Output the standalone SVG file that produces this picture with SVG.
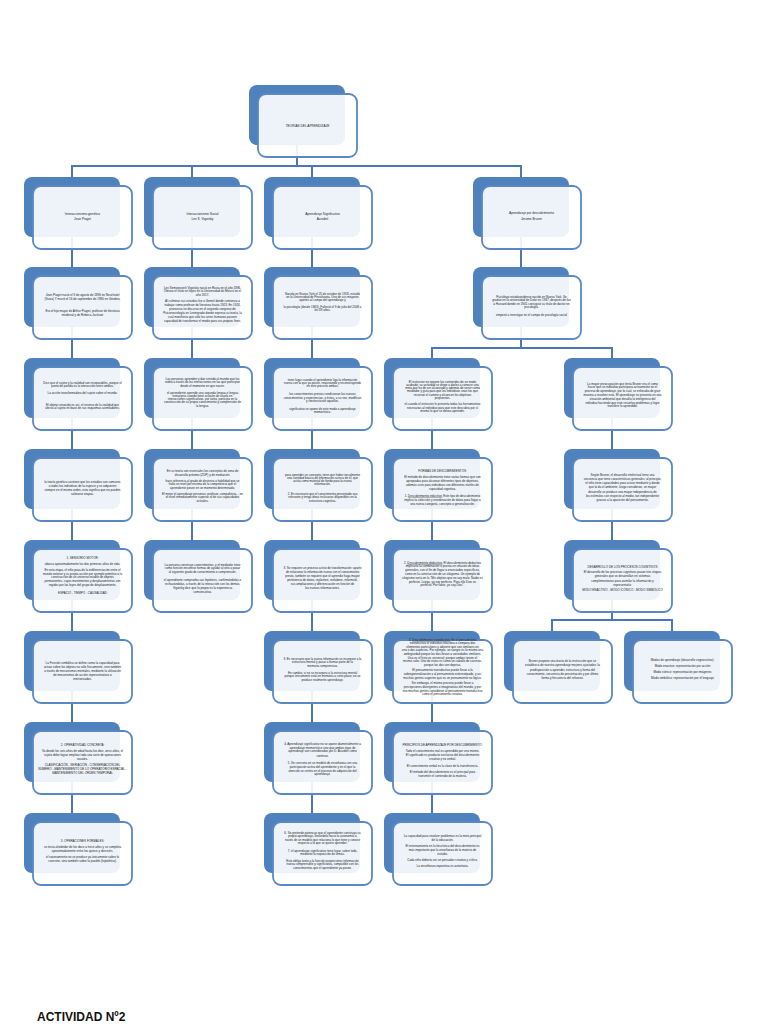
<svg xmlns="http://www.w3.org/2000/svg" width="768" height="1024" viewBox="0 0 768 1024">
<style>
.dk{fill:#4f81bd}
.lt{fill:#fff;fill-opacity:.9;stroke:#5a88c5;stroke-width:1.8}
.t{font-family:"Liberation Sans",Arial,sans-serif;font-size:3px;fill:#222;text-anchor:middle}
.h{font-size:3.2px}
.cn line{stroke:#4a78b5;stroke-width:2}
.u{text-decoration:underline}
.big{font-family:"Liberation Sans",Arial,sans-serif;font-size:12px;font-weight:bold;fill:#111}
</style>
<rect width="768" height="1024" fill="#fff"/>
<g id="connectors" class="cn">
<line x1="297" y1="140" x2="297" y2="166"/>
<line x1="71" y1="166" x2="522" y2="166"/>
<line x1="72" y1="166" x2="72" y2="813"/>
<line x1="192" y1="166" x2="192" y2="540"/>
<line x1="312" y1="166" x2="312" y2="813"/>
<line x1="521" y1="166" x2="521" y2="348"/>
<line x1="431" y1="348" x2="613" y2="348"/>
<line x1="432" y1="348" x2="432" y2="813"/>
<line x1="612" y1="348" x2="612" y2="620"/>
<line x1="551" y1="620" x2="673" y2="620"/>
<line x1="552" y1="620" x2="552" y2="631"/>
<line x1="672" y1="620" x2="672" y2="631"/>
</g>

<g id="n-top"><rect class="dk" x="249" y="85" width="96" height="60" rx="8"/><rect class="lt" x="258" y="94" width="99" height="63" rx="8"/>
<text class="t h"><tspan x="307.5" y="126.5">TEORIAS DEL APRENDIZAJE</tspan></text></g>

<!-- Column 1: Piaget -->
<g id="n-c1r1"><rect class="dk" x="24" y="177" width="96" height="60" rx="8"/><rect class="lt" x="33" y="186" width="99" height="63" rx="8"/>
<text class="t h"><tspan x="82.5" y="214.5">Interaccionismo genético</tspan><tspan x="82.5" y="220.3">Jean Piaget</tspan></text></g>

<g id="n-c1r2"><rect class="dk" x="24" y="267" width="96" height="60" rx="8"/><rect class="lt" x="33" y="276" width="99" height="63" rx="8"/>
<text class="t"><tspan x="82.5" y="296">Jean Piaget nació el 9 de agosto de 1896 en Neuchatel</tspan><tspan x="82.5" y="300">(Suiza) Y murió el 16 de septiembre de 1980 en Ginebra.</tspan><tspan x="82.5" y="312">Era el hijo mayor de Arthur Piaget, profesor de literatura</tspan><tspan x="82.5" y="316">medieval y de Rebeca Jackson</tspan></text></g>

<g id="n-c1r3"><rect class="dk" x="24" y="358" width="96" height="60" rx="8"/><rect class="lt" x="33" y="367" width="99" height="63" rx="8"/>
<text class="t"><tspan x="82.5" y="383.5">Dice que el sujeto y la realidad son inseparables, porque el</tspan><tspan x="82.5" y="386.9">punto de partida es la interacción entre ambas.</tspan><tspan x="82.5" y="394.2">La acción transformadora del sujeto sobre el mundo.</tspan><tspan x="82.5" y="406">El objeto conocido es así, el reverso de la realidad que</tspan><tspan x="82.5" y="409.4">afecta al sujeto en base de sus esquemas asimiladores.</tspan></text></g>

<g id="n-c1r4"><rect class="dk" x="24" y="449" width="96" height="60" rx="8"/><rect class="lt" x="33" y="458" width="99" height="63" rx="8"/>
<text class="t"><tspan x="82.5" y="482.5">la teoría genética sostiene que los estadios son comunes</tspan><tspan x="82.5" y="486.8">a todos los individuos de la especie y se adquieren</tspan><tspan x="82.5" y="491.1">siempre en el mismo orden, esto significa que no pueden</tspan><tspan x="82.5" y="495.4">saltearse etapas.</tspan></text></g>

<g id="n-c1r5"><rect class="dk" x="24" y="540" width="96" height="60" rx="8"/><rect class="lt" x="33" y="549" width="99" height="63" rx="8"/>
<text class="t"><tspan x="82.5" y="559">1. SENSORIO MOTOR:</tspan><tspan x="82.5" y="565">abarca aproximadamente los dos primeros años de vida.</tspan><tspan x="82.5" y="571">En esta etapa, el niño pasa de la indiferenciación entre el</tspan><tspan x="82.5" y="574.7">mundo exterior y su propia acción por ejemplo primitivo a la</tspan><tspan x="82.5" y="578.4">construcción de un universo estable de objetos</tspan><tspan x="82.5" y="582.1">permanentes, cuyos movimientos y desplazamientos son</tspan><tspan x="82.5" y="585.8">regidos por las leyes del grupo de desplazamiento.</tspan><tspan x="82.5" y="594">ESPACIO - TIEMPO - CAUSALIDAD</tspan></text></g>

<g id="n-c1r6"><rect class="dk" x="24" y="631" width="96" height="60" rx="8"/><rect class="lt" x="33" y="640" width="99" height="63" rx="8"/>
<text class="t"><tspan x="82.5" y="663.5">La Función simbólica se define como la capacidad para</tspan><tspan x="82.5" y="667.5">actuar sobre los objetos no sólo físicamente, sino también</tspan><tspan x="82.5" y="671.5">a través de mecanismos mentales, mediante la utilización</tspan><tspan x="82.5" y="675.5">de mecanismos de acción representativos o</tspan><tspan x="82.5" y="679.5">interiorizados.</tspan></text></g>

<g id="n-c1r7"><rect class="dk" x="24" y="722" width="96" height="60" rx="8"/><rect class="lt" x="33" y="731" width="99" height="63" rx="8"/>
<text class="t"><tspan x="82.5" y="746">2. OPERATIVIDAD CONCRETA:</tspan><tspan x="82.5" y="752">Va desde los seis años de edad hasta los diez, once años, el</tspan><tspan x="82.5" y="756">sujeto debe lograr emplear toda una serie de operaciones</tspan><tspan x="82.5" y="760">usuales.</tspan><tspan x="82.5" y="765.5">CLASIFICACIÓN - SERIACIÓN - CONSERVACIÓN DEL</tspan><tspan x="82.5" y="769.8">NÚMERO - MANTENIMIENTO DE LO OPERATORIO ESPACIAL -</tspan><tspan x="82.5" y="774.1">MANTENIMIENTO DEL ORDEN TEMPORAL</tspan></text></g>

<g id="n-c1r8"><rect class="dk" x="24" y="813" width="96" height="60" rx="8"/><rect class="lt" x="33" y="822" width="99" height="63" rx="8"/>
<text class="t"><tspan x="82.5" y="842">3. OPERACIONES FORMALES:</tspan><tspan x="82.5" y="848">se inicia alrededor de los doce a trece años y se completa</tspan><tspan x="82.5" y="852">aproximadamente entre los quince y dieciséis.</tspan><tspan x="82.5" y="858">el razonamiento no se produce ya únicamente sobre lo</tspan><tspan x="82.5" y="862">concreto, sino también sobre lo posible (hipotético).</tspan></text></g>

<!-- Column 2: Vigotsky -->
<g id="n-c2r1"><rect class="dk" x="144" y="177" width="96" height="60" rx="8"/><rect class="lt" x="153" y="186" width="99" height="63" rx="8"/>
<text class="t h"><tspan x="202.5" y="214.5">Interaccionismo Social</tspan><tspan x="202.5" y="220.3">Lev S. Vigotsky</tspan></text></g>

<g id="n-c2r2"><rect class="dk" x="144" y="267" width="96" height="60" rx="8"/><rect class="lt" x="153" y="276" width="99" height="63" rx="8"/>
<text class="t"><tspan x="202.5" y="289">Lev Semionovich Vigotsky nació en Rusia en el año 1896.</tspan><tspan x="202.5" y="292.4">Obtuvo el título en leyes en la Universidad de Moscú en el</tspan><tspan x="202.5" y="295.8">año 1917.</tspan><tspan x="202.5" y="302">Al culminar sus estudios fue a Gomel donde comienza a</tspan><tspan x="202.5" y="306">trabajar como profesor de literatura hasta 1923. En 1924,</tspan><tspan x="202.5" y="310">pronuncia un discurso en el segundo congreso de</tspan><tspan x="202.5" y="314">Psiconeurología en Leningrado donde expresa su teoría, la</tspan><tspan x="202.5" y="318">cual manifiesta que sólo los seres humanos poseen</tspan><tspan x="202.5" y="322">capacidad de transformar el medio para sus propios fines.</tspan></text></g>

<g id="n-c2r3"><rect class="dk" x="144" y="358" width="96" height="60" rx="8"/><rect class="lt" x="153" y="367" width="99" height="63" rx="8"/>
<text class="t"><tspan x="202.5" y="380">Las personas aprenden y dan sentido al mundo que las</tspan><tspan x="202.5" y="383.3">rodea a través de las interacciones en las que participan</tspan><tspan x="202.5" y="386.6">desde el momento en que nacen.</tspan><tspan x="202.5" y="393.5">el aprendiente aprende una segunda lengua o lengua</tspan><tspan x="202.5" y="396.8">extranjera cuando tiene ocasión de usarla en</tspan><tspan x="202.5" y="400.1">interacciones significativas, por tanto, participa en la</tspan><tspan x="202.5" y="403.4">construcción de su propio conocimiento y comprensión de</tspan><tspan x="202.5" y="406.7">la lengua.</tspan></text></g>

<g id="n-c2r4"><rect class="dk" x="144" y="449" width="96" height="60" rx="8"/><rect class="lt" x="153" y="458" width="99" height="63" rx="8"/>
<text class="t"><tspan x="202.5" y="472">En su teoría son esenciales los conceptos de zona de</tspan><tspan x="202.5" y="475.5">desarrollo próximo (ZDP) y de mediación.</tspan><tspan x="202.5" y="481.5">hace referencia al grado de destreza o habilidad que se</tspan><tspan x="202.5" y="485">halla un nivel por encima de la competencia que el</tspan><tspan x="202.5" y="488.5">aprendiente posee en un momento determinado.</tspan><tspan x="202.5" y="494.5">El mejor el aprendizaje personas: profesor, compañeros... en</tspan><tspan x="202.5" y="498">el nivel inmediatamente superior al de sus capacidades</tspan><tspan x="202.5" y="501.5">actuales.</tspan></text></g>

<g id="n-c2r5"><rect class="dk" x="144" y="540" width="96" height="60" rx="8"/><rect class="lt" x="153" y="549" width="99" height="63" rx="8"/>
<text class="t"><tspan x="202.5" y="566">La persona construye conocimientos, y el mediador tiene</tspan><tspan x="202.5" y="569.4">como función encontrar formas de ayudar al otro a pasar</tspan><tspan x="202.5" y="572.8">al siguiente grado de conocimiento o comprensión.</tspan><tspan x="202.5" y="580.5">el aprendiente comprueba sus hipótesis, confirmándolas o</tspan><tspan x="202.5" y="584.7">rechazándolas, a través de la interacción con los demás.</tspan><tspan x="202.5" y="588.9">Vigotsky dice que lo propio es la experiencia</tspan><tspan x="202.5" y="593.1">comunicativa.</tspan></text></g>

<!-- Column 3: Ausubel -->
<g id="n-c3r1"><rect class="dk" x="264" y="177" width="96" height="60" rx="8"/><rect class="lt" x="273" y="186" width="99" height="63" rx="8"/>
<text class="t h"><tspan x="322.5" y="214.5">Aprendizaje Significativo</tspan><tspan x="322.5" y="220.3">Ausubel</tspan></text></g>

<g id="n-c3r2"><rect class="dk" x="264" y="267" width="96" height="60" rx="8"/><rect class="lt" x="273" y="276" width="99" height="63" rx="8"/>
<text class="t"><tspan x="322.5" y="295">Nacido en Nueva York el 25 de octubre de 1918, estudió</tspan><tspan x="322.5" y="298.2">en la Universidad de Pensilvania. Uno de sus mayores</tspan><tspan x="322.5" y="301.4">aportes al campo del aprendizaje y</tspan><tspan x="322.5" y="307.8">la psicología (desde 1963). Falleció el 9 de julio del 2008 a</tspan><tspan x="322.5" y="311">los 89 años.</tspan></text></g>

<g id="n-c3r3"><rect class="dk" x="264" y="358" width="96" height="60" rx="8"/><rect class="lt" x="273" y="367" width="99" height="63" rx="8"/>
<text class="t"><tspan x="322.5" y="381">tiene lugar cuando el aprendiente liga la información</tspan><tspan x="322.5" y="384.2">nueva con la que ya posee, reajustando y reconstruyendo</tspan><tspan x="322.5" y="387.4">en este proceso ambas.</tspan><tspan x="322.5" y="395">los conocimientos previos condicionan los nuevos</tspan><tspan x="322.5" y="398.5">conocimientos y experiencias, y éstos, a su vez, modifican</tspan><tspan x="322.5" y="402">y reestructuran aquellos.</tspan><tspan x="322.5" y="409.5">significativo se opone de este modo a aprendizaje</tspan><tspan x="322.5" y="412.7">memorístico.</tspan></text></g>

<g id="n-c3r4"><rect class="dk" x="264" y="449" width="96" height="60" rx="8"/><rect class="lt" x="273" y="458" width="99" height="63" rx="8"/>
<text class="t"><tspan x="322.5" y="476">para aprender un concepto, tiene que haber inicialmente</tspan><tspan x="322.5" y="479">una cantidad básica de información acerca de él, que</tspan><tspan x="322.5" y="482">actúa como material de fondo para la nueva</tspan><tspan x="322.5" y="485">información.</tspan><tspan x="322.5" y="494.5">2. Es necesario que el conocimiento presentado sea</tspan><tspan x="322.5" y="498">relevante y tenga ideas inclusoras disponibles en la</tspan><tspan x="322.5" y="501.5">estructura cognitiva.</tspan></text></g>

<g id="n-c3r5"><rect class="dk" x="264" y="540" width="96" height="60" rx="8"/><rect class="lt" x="273" y="549" width="99" height="63" rx="8"/>
<text class="t"><tspan x="322.5" y="569">3. Se requiere un proceso activo de transformación: aparte</tspan><tspan x="322.5" y="573">de relacionar la información nueva con el conocimiento</tspan><tspan x="322.5" y="577">previo, también se requiere que el aprendiz haga mayor</tspan><tspan x="322.5" y="581">pertinencia de datos, replantee, reelabore, reformule,</tspan><tspan x="322.5" y="585">sus ampliaciones y diferenciación en función de</tspan><tspan x="322.5" y="589">las nuevas informaciones.</tspan></text></g>

<g id="n-c3r6"><rect class="dk" x="264" y="631" width="96" height="60" rx="8"/><rect class="lt" x="273" y="640" width="99" height="63" rx="8"/>
<text class="t"><tspan x="322.5" y="659.5">3. Es necesario que la nueva información se incorpore a la</tspan><tspan x="322.5" y="663">estructura mental y pasar a formar parte de la</tspan><tspan x="322.5" y="666.5">memoria comprensiva.</tspan><tspan x="322.5" y="673.5">En cambio, si no se incorpora a la estructura mental</tspan><tspan x="322.5" y="677.2">porque únicamente está en memoria a corto plazo, no se</tspan><tspan x="322.5" y="680.9">produce realmente aprendizaje.</tspan></text></g>

<g id="n-c3r7"><rect class="dk" x="264" y="722" width="96" height="60" rx="8"/><rect class="lt" x="273" y="731" width="99" height="63" rx="8"/>
<text class="t"><tspan x="322.5" y="745">4. Aprendizaje significativo no se opone diametralmente a</tspan><tspan x="322.5" y="748.7">aprendizaje memorístico sino que ambos tipos de</tspan><tspan x="322.5" y="752.4">aprendizaje son considerados por D. Ausubel como</tspan><tspan x="322.5" y="756.5">continuo.</tspan><tspan x="322.5" y="764">5. Se concreta en un modelo de enseñanza con una</tspan><tspan x="322.5" y="767.8">participación activa del aprendiente y en el que la</tspan><tspan x="322.5" y="771.6">atención se centra en el proceso de adquisición del</tspan><tspan x="322.5" y="775.4">aprendizaje.</tspan></text></g>

<g id="n-c3r8"><rect class="dk" x="264" y="813" width="96" height="60" rx="8"/><rect class="lt" x="273" y="822" width="99" height="63" rx="8"/>
<text class="t"><tspan x="322.5" y="833.5">6. Se pretende potenciar que el aprendiente construya su</tspan><tspan x="322.5" y="837">propio aprendizaje, llevándolo hacia la autonomía a</tspan><tspan x="322.5" y="840.5">través de un modelo que relaciona lo que tiene y conoce</tspan><tspan x="322.5" y="844">respecto a lo que se quiere aprender.</tspan><tspan x="322.5" y="851.5">7. el aprendizaje significativo tiene lugar, sobre todo,</tspan><tspan x="322.5" y="855">mediante la exposición de temas.</tspan><tspan x="322.5" y="861.5">Esto obliga tanto a la función proporcionar información</tspan><tspan x="322.5" y="865">nueva comprensible y significativa, compatible con los</tspan><tspan x="322.5" y="868.5">conocimientos que el aprendiente ya posee.</tspan></text></g>

<!-- Column 4: Bruner -->
<g id="n-c4r1"><rect class="dk" x="473" y="177" width="96" height="60" rx="8"/><rect class="lt" x="482" y="186" width="99" height="63" rx="8"/>
<text class="t h"><tspan x="531.5" y="214">Aprendizaje por descubrimiento</tspan><tspan x="531.5" y="219.8">Jerome Bruner</tspan></text></g>

<g id="n-c4r2"><rect class="dk" x="473" y="267" width="96" height="60" rx="8"/><rect class="lt" x="482" y="276" width="99" height="63" rx="8"/>
<text class="t"><tspan x="531.5" y="297.5">Psicólogo estadounidense nacido en Nueva York. Se</tspan><tspan x="531.5" y="301">graduó en la universidad de Duke en 1937, después de fue</tspan><tspan x="531.5" y="304.5">a Harvard donde en 1941 consiguió su título de doctor en</tspan><tspan x="531.5" y="308">psicología.</tspan><tspan x="531.5" y="316">empezó a investigar en el campo de psicología social</tspan></text></g>

<!-- Column 5 -->
<g id="n-c5r3"><rect class="dk" x="384" y="358" width="96" height="60" rx="8"/><rect class="lt" x="393" y="367" width="99" height="63" rx="8"/>
<text class="t"><tspan x="442.5" y="382.5">El instructor no expone los contenidos de un modo</tspan><tspan x="442.5" y="385.8">acabado; su actividad se dirige a darles a conocer una</tspan><tspan x="442.5" y="389.1">meta que ha de ser alcanzada y además de servir como</tspan><tspan x="442.5" y="392.4">mediador y guía para que los individuos sean los que</tspan><tspan x="442.5" y="395.7">recorran el camino y alcancen los objetivos</tspan><tspan x="442.5" y="399">propuestos.</tspan><tspan x="442.5" y="405">el cuando el instructor le presenta todas las herramientas</tspan><tspan x="442.5" y="408.6">necesarias al individuo para que este descubra por sí</tspan><tspan x="442.5" y="412.2">mismo lo que se desea aprender.</tspan></text></g>

<g id="n-c5r4"><rect class="dk" x="384" y="449" width="96" height="60" rx="8"/><rect class="lt" x="393" y="458" width="99" height="63" rx="8"/>
<text class="t"><tspan x="442.5" y="472">FORMAS DE DESCUBRIMIENTOS:</tspan><tspan x="442.5" y="477.7">El método de descubrimiento tiene varias formas que son</tspan><tspan x="442.5" y="481.7">apropiadas para alcanzar diferentes tipos de objetivos,</tspan><tspan x="442.5" y="485.7">además sirve para individuos con diferentes niveles de</tspan><tspan x="442.5" y="489.7">capacidad cognitiva.</tspan><tspan x="442.5" y="496.5">1. <tspan class="u">Descubrimiento inductivo:</tspan> Este tipo de descubrimiento</tspan><tspan x="442.5" y="500.5">implica la colección y reordenación de datos para llegar a</tspan><tspan x="442.5" y="504.5">una nueva categoría, concepto o generalización.</tspan></text></g>

<g id="n-c5r5"><rect class="dk" x="384" y="540" width="96" height="60" rx="8"/><rect class="lt" x="393" y="549" width="99" height="63" rx="8"/>
<text class="t"><tspan x="442.5" y="563.5">2. <tspan class="u">Descubrimiento deductivo:</tspan> El descubrimiento deductivo</tspan><tspan x="442.5" y="567.3">implicaría la combinación o puesta en relación de ideas</tspan><tspan x="442.5" y="571.1">generales, con el fin de llegar a enunciados específicos,</tspan><tspan x="442.5" y="574.9">como en la construcción de un silogismo. Un ejemplo de</tspan><tspan x="442.5" y="578.7">silogismo sería en la "Mis objetos que no soy malo. Nadie es</tspan><tspan x="442.5" y="582.5">perfecto. Luego, yo soy perfecto. Para ello Dios es</tspan><tspan x="442.5" y="586.3">perfecto. Por tanto, yo soy Dios".</tspan></text></g>

<g id="n-c5r6"><rect class="dk" x="384" y="631" width="96" height="60" rx="8"/><rect class="lt" x="393" y="640" width="99" height="63" rx="8"/>
<text class="t"><tspan x="442.5" y="640.5">3. <tspan class="u">Descubrimiento transductivo:</tspan> En el pensamiento</tspan><tspan x="442.5" y="644.1">transductivo el individuo relaciona o compara dos</tspan><tspan x="442.5" y="647.7">elementos particulares y advierte que son similares en</tspan><tspan x="442.5" y="651.3">uno o dos aspectos. Por ejemplo, un sangre es lo mismo una</tspan><tspan x="442.5" y="654.9">ambigüedad porque los dos llevan a sociedades similares.</tspan><tspan x="442.5" y="658.5">Una es el fruto es universal; porque ambos tienen el</tspan><tspan x="442.5" y="662.1">mismo color. Uno de estos es como un caballo de carreras,</tspan><tspan x="442.5" y="665.7">porque los dos son deprisa.</tspan><tspan x="442.5" y="671.3">El pensamiento transductivo puede llevar a la</tspan><tspan x="442.5" y="674.9">sobregeneralización o al pensamiento estereotipado, y así</tspan><tspan x="442.5" y="678.5">muchas gentes sugieren que es un pensamiento no lógico.</tspan><tspan x="442.5" y="684.3">Sin embargo, el mismo proceso puede llevar a</tspan><tspan x="442.5" y="687.9">percepciones divergentes o imaginativas del mundo, y por</tspan><tspan x="442.5" y="691.5">eso muchas gentes consideran al pensamiento transductivo</tspan><tspan x="442.5" y="695.1">como el pensamiento creativo.</tspan></text></g>

<g id="n-c5r7"><rect class="dk" x="384" y="722" width="96" height="60" rx="8"/><rect class="lt" x="393" y="731" width="99" height="63" rx="8"/>
<text class="t"><tspan x="442.5" y="745.5">PRINCIPIOS DE APRENDIZAJE POR DESCUBRIMIENTO:</tspan><tspan x="442.5" y="751.5">Todo el conocimiento real es aprendido por uno mismo.</tspan><tspan x="442.5" y="755.8">El significado es producto exclusivo del descubrimiento</tspan><tspan x="442.5" y="760">creativo y no verbal.</tspan><tspan x="442.5" y="766.5">El conocimiento verbal es la clave de la transferencia.</tspan><tspan x="442.5" y="772.5">El método del descubrimiento es el principal para</tspan><tspan x="442.5" y="776.8">transmitir el contenido de la materia.</tspan></text></g>

<g id="n-c5r8"><rect class="dk" x="384" y="813" width="96" height="60" rx="8"/><rect class="lt" x="393" y="822" width="99" height="63" rx="8"/>
<text class="t"><tspan x="442.5" y="836.7">La capacidad para resolver problemas es la meta principal</tspan><tspan x="442.5" y="840.7">de la educación.</tspan><tspan x="442.5" y="847.3">El entrenamiento en la heurística del descubrimiento es</tspan><tspan x="442.5" y="851.1">más importante que la enseñanza de la materia de</tspan><tspan x="442.5" y="854.9">estudio.</tspan><tspan x="442.5" y="861">Cada niño debería ser un pensador creativo y crítico.</tspan><tspan x="442.5" y="867.3">La enseñanza expositiva es autoritaria.</tspan></text></g>

<!-- Column 6 -->
<g id="n-c6r3"><rect class="dk" x="564" y="358" width="96" height="60" rx="8"/><rect class="lt" x="573" y="367" width="99" height="63" rx="8"/>
<text class="t"><tspan x="622.5" y="384.5">La mayor preocupación que tenía Bruner era el como</tspan><tspan x="622.5" y="388.3">hacer que un individuo participara activamente en el</tspan><tspan x="622.5" y="392.1">proceso de aprendizaje, por lo cual, se enfocaba de gran</tspan><tspan x="622.5" y="395.9">manera a resolver esto. El aprendizaje se presenta en una</tspan><tspan x="622.5" y="399.7">situación ambiental que desafía la inteligencia del</tspan><tspan x="622.5" y="403.5">individuo haciendo que este resuelva problemas y logre</tspan><tspan x="622.5" y="407.3">transferir lo aprendido.</tspan></text></g>

<g id="n-c6r4"><rect class="dk" x="564" y="449" width="96" height="60" rx="8"/><rect class="lt" x="573" y="458" width="99" height="63" rx="8"/>
<text class="t"><tspan x="622.5" y="475.7">Según Bruner, el desarrollo intelectual tiene una</tspan><tspan x="622.5" y="479.9">secuencia que tiene características generales; al principio,</tspan><tspan x="622.5" y="484.1">el niño tiene capacidades para actuar mediante y desde</tspan><tspan x="622.5" y="488.3">que la da el ambiente, luego consideran, un mayor</tspan><tspan x="622.5" y="492.5">desarrollo se produce una mayor independencia de</tspan><tspan x="622.5" y="496.7">los estímulos con respecto al medio, tan independiente</tspan><tspan x="622.5" y="500.9">gracias a la aparición del pensamiento.</tspan></text></g>

<g id="n-c6r5"><rect class="dk" x="564" y="540" width="96" height="60" rx="8"/><rect class="lt" x="573" y="549" width="99" height="63" rx="8"/>
<text class="t"><tspan x="622.5" y="567.5">DESARROLLO DE LOS PROCESOS COGNITIVOS</tspan><tspan x="622.5" y="573.3">El desarrollo de los procesos cognitivos pasan tres etapas</tspan><tspan x="622.5" y="577.3">generales que se desarrollan en sistemas</tspan><tspan x="622.5" y="581.5">complementarios para asimilar la información y</tspan><tspan x="622.5" y="586">representarla:</tspan><tspan x="622.5" y="590.5">MODO ENACTIVO - MODO ICÓNICO - MODO SIMBÓLICO</tspan></text></g>

<!-- Columns 7, 8 -->
<g id="n-c7r6"><rect class="dk" x="504" y="631" width="96" height="60" rx="8"/><rect class="lt" x="513" y="640" width="99" height="63" rx="8"/>
<text class="t"><tspan x="562.5" y="662">Bruner propone una teoría de la instrucción que se</tspan><tspan x="562.5" y="666.3">establezca de nuestra aprendizaje mejores ajustados: la</tspan><tspan x="562.5" y="670.6">predisposición a aprender, estructura y forma del</tspan><tspan x="562.5" y="674.9">conocimiento, secuencia de presentación y por último</tspan><tspan x="562.5" y="679.2">forma y frecuencia del refuerzo.</tspan></text></g>

<g id="n-c8r6"><rect class="dk" x="624" y="631" width="96" height="60" rx="8"/><rect class="lt" x="633" y="640" width="99" height="63" rx="8"/>
<text class="t"><tspan x="682.5" y="661">Modos de aprendizaje (desarrollo cognoscitivo):</tspan><tspan x="682.5" y="667">Modo enactivo: representación por acción</tspan><tspan x="682.5" y="673">Modo icónico: representación por imágenes</tspan><tspan x="682.5" y="679">Modo simbólico: representación por el lenguaje</tspan></text></g>

<text class="big" x="37" y="1021">ACTIVIDAD Nº2</text>
</svg>
